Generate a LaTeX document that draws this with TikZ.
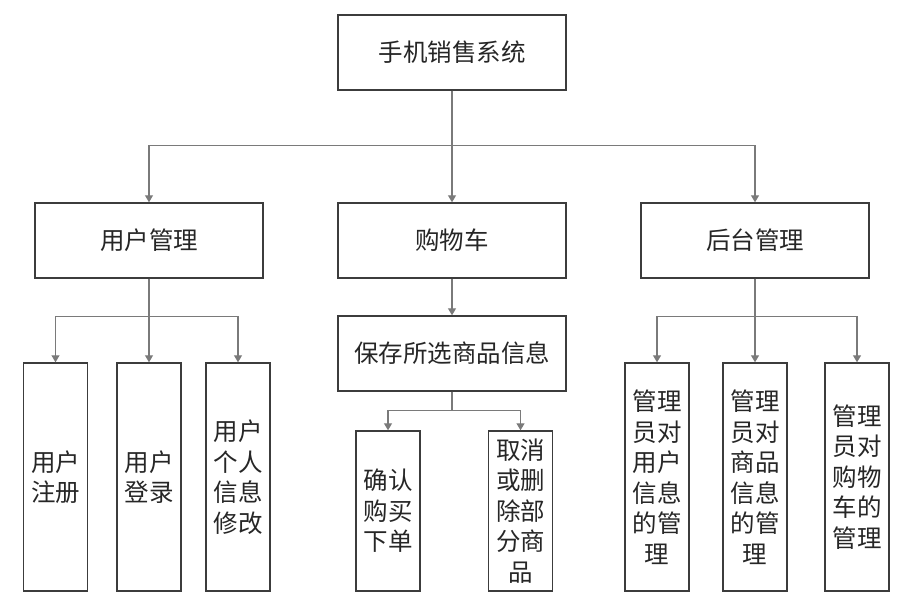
\documentclass[tikz,border=0pt]{standalone}
\usepackage{fontspec}
\setmainfont{Noto Sans CJK SC}
\usepackage{tikz}
\usetikzlibrary{arrows.meta,positioning}

\definecolor{boxline}{HTML}{3C3C3C}
\definecolor{linkline}{HTML}{7A7A7A}

\tikzset{
  box/.style={draw=boxline, line width=1.4pt, align=center, inner sep=0pt,
    font=\fontsize{24.5}{30.5}\selectfont, text=black!85},
  widebox/.style={box, minimum width=228pt, minimum height=75pt},
  tallbox/.style={box, minimum width=64pt, minimum height=228pt, text width=54pt},
  shortbox/.style={box, minimum width=64pt, minimum height=160pt, text width=54pt},
  link/.style={draw=linkline, line width=1.2pt, -{Triangle[width=8pt,length=7pt]}}
}

\begin{document}
\begin{tikzpicture}[x=1pt,y=1pt,on grid]
        \useasboundingbox (0,0) rectangle (913,-601);
        \node[widebox] (sys) at (452,-52.5) {手机销售系统};
        \node[widebox] (user) [below left=188 and 303 of sys] {用户管理};
        \node[widebox] (cart) [below=188 of sys] {购物车};
        \node[widebox] (admin) [below right=188 and 303 of sys] {后台管理};
        \node[widebox] (save) [below=113 of cart] {保存所选商品信息};
        \node[tallbox] (reg) [below left=236.5 and 93.5 of user] {用户\\注册};
        \node[tallbox] (login) [below=236.5 of user] {用户\\登录};
        \node[tallbox] (modify) [below right=236.5 and 89 of user] {用户\\个人\\信息\\修改};
        \node[shortbox] (confirm) [below left=157.5 and 64 of save] {确认\\购买\\下单};
        \node[shortbox] (cancel) [below right=157.5 and 68.5 of save] {取消\\或删\\除部\\分商\\品};
        \node[tallbox] (mguser) [below left=236.5 and 98 of admin] {管理\\员对\\用户\\信息\\的管\\理};
        \node[tallbox] (mggoods) [below=236.5 of admin] {管理\\员对\\商品\\信息\\的管\\理};
        \node[tallbox] (mgcart) [below right=236.5 and 102 of admin] {管理\\员对\\购物\\车的\\管理};
        \draw[link] (sys.south) -- ++(0,-55) -| (user.north);
        \draw[link] (sys) -- (cart);
        \draw[link] (sys.south) -- ++(0,-55) -| (admin.north);
        \draw[link] (user.south) -- ++(0,-38) -| (reg.north);
        \draw[link] (user) -- (login);
        \draw[link] (user.south) -- ++(0,-38) -| (modify.north);
        \draw[link] (cart) -- (save);
        \draw[link] (save.south) -- ++(0,-19) -| (confirm.north);
        \draw[link] (save.south) -- ++(0,-19) -| (cancel.north);
        \draw[link] (admin.south) -- ++(0,-38) -| (mguser.north);
        \draw[link] (admin) -- (mggoods);
        \draw[link] (admin.south) -- ++(0,-38) -| (mgcart.north);
      \end{tikzpicture}
\end{document}
